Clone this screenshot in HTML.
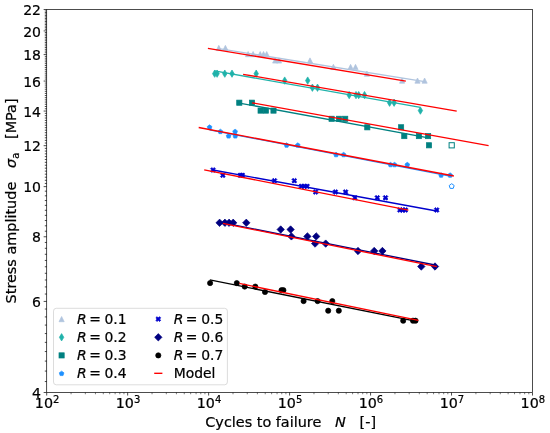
<!DOCTYPE html>
<html lang="en"><head><meta charset="utf-8"><title>S-N curves</title>
<style>html,body{margin:0;padding:0;background:#fff;}svg{display:block;}text{font-family:"DejaVu Sans","Liberation Sans",sans-serif;fill:#000;stroke:#000;stroke-width:0.22px;}.it{font-style:oblique;}</style></head><body>
<svg width="550" height="433" viewBox="0 0 550 433">
<rect x="0" y="0" width="550" height="433" fill="#fff"/>
<path d="M46.70 381.54h-1.9M46.70 371.09h-1.9M46.70 361.10h-1.9M46.70 351.54h-1.9M46.70 342.37h-1.9M46.70 333.56h-1.9M46.70 325.08h-1.9M46.70 316.91h-1.9M46.70 309.02h-1.9M46.70 294.04h-1.9M46.70 286.91h-1.9M46.70 279.99h-1.9M46.70 273.29h-1.9M46.70 266.77h-1.9M46.70 260.44h-1.9M46.70 254.29h-1.9M46.70 248.30h-1.9M46.70 242.46h-1.9M46.70 231.23h-1.9M46.70 225.81h-1.9M46.70 220.52h-1.9M46.70 215.36h-1.9M46.70 210.31h-1.9M46.70 205.37h-1.9M46.70 200.54h-1.9M46.70 195.81h-1.9M46.70 191.18h-1.9M46.70 183.45h-1.9M46.70 180.31h-1.9M46.70 177.21h-1.9M46.70 174.16h-1.9M46.70 171.14h-1.9M46.70 168.16h-1.9M46.70 165.23h-1.9M46.70 162.33h-1.9M46.70 159.47h-1.9M46.70 156.64h-1.9M46.70 153.85h-1.9M46.70 151.09h-1.9M46.70 148.37h-1.9M46.70 143.02h-1.9M46.70 140.39h-1.9M46.70 137.79h-1.9M46.70 135.23h-1.9M46.70 132.69h-1.9M46.70 130.18h-1.9M46.70 127.70h-1.9M46.70 125.24h-1.9M46.70 122.81h-1.9M46.70 120.41h-1.9M46.70 118.03h-1.9M46.70 115.68h-1.9M46.70 113.35h-1.9M46.70 108.77h-1.9M46.70 106.51h-1.9M46.70 104.27h-1.9M46.70 102.06h-1.9M46.70 99.87h-1.9M46.70 97.70h-1.9M46.70 95.55h-1.9M46.70 93.42h-1.9M46.70 91.31h-1.9M46.70 89.22h-1.9M46.70 87.15h-1.9M46.70 85.09h-1.9M46.70 83.06h-1.9M46.70 79.05h-1.9M46.70 77.07h-1.9M46.70 75.11h-1.9M46.70 73.16h-1.9M46.70 71.23h-1.9M46.70 69.32h-1.9M46.70 67.43h-1.9M46.70 65.55h-1.9M46.70 63.68h-1.9M46.70 61.83h-1.9M46.70 60.00h-1.9M46.70 58.18h-1.9M46.70 56.37h-1.9M46.70 52.81h-1.9M46.70 51.05h-1.9M46.70 49.30h-1.9M46.70 47.56h-1.9M46.70 45.84h-1.9M46.70 44.13h-1.9M46.70 42.44h-1.9M46.70 40.75h-1.9M46.70 39.08h-1.9M46.70 37.43h-1.9M46.70 35.78h-1.9M46.70 34.15h-1.9M46.70 32.52h-1.9M46.70 29.31h-1.9M46.70 27.73h-1.9M46.70 26.15h-1.9M46.70 24.58h-1.9M46.70 23.03h-1.9M46.70 21.49h-1.9M46.70 19.95h-1.9M46.70 18.43h-1.9M46.70 16.92h-1.9M46.70 15.41h-1.9M46.70 13.92h-1.9M46.70 12.44h-1.9M46.70 10.96h-1.9" stroke="#000" stroke-width="0.7" fill="none"/>
<path d="M46.70 392.50h-3.05M46.70 301.41h-3.05M46.70 236.77h-3.05M46.70 186.64h-3.05M46.70 145.68h-3.05M46.70 111.05h-3.05M46.70 81.05h-3.05M46.70 54.58h-3.05M46.70 30.91h-3.05M46.70 9.50h-3.05M46.70 392.50v3.05M127.67 392.50v3.05M208.63 392.50v3.05M289.60 392.50v3.05M370.57 392.50v3.05M451.53 392.50v3.05M532.50 392.50v3.05" stroke="#000" stroke-width="0.7" fill="none"/>
<path d="M71.07 392.50v1.75M85.33 392.50v1.75M95.45 392.50v1.75M103.29 392.50v1.75M109.70 392.50v1.75M115.12 392.50v1.75M119.82 392.50v1.75M123.96 392.50v1.75M152.04 392.50v1.75M166.30 392.50v1.75M176.41 392.50v1.75M184.26 392.50v1.75M190.67 392.50v1.75M196.09 392.50v1.75M200.79 392.50v1.75M204.93 392.50v1.75M233.01 392.50v1.75M247.26 392.50v1.75M257.38 392.50v1.75M265.23 392.50v1.75M271.64 392.50v1.75M277.06 392.50v1.75M281.75 392.50v1.75M285.90 392.50v1.75M313.97 392.50v1.75M328.23 392.50v1.75M338.35 392.50v1.75M346.19 392.50v1.75M352.60 392.50v1.75M358.02 392.50v1.75M362.72 392.50v1.75M366.86 392.50v1.75M394.94 392.50v1.75M409.20 392.50v1.75M419.31 392.50v1.75M427.16 392.50v1.75M433.57 392.50v1.75M438.99 392.50v1.75M443.69 392.50v1.75M447.83 392.50v1.75M475.91 392.50v1.75M490.16 392.50v1.75M500.28 392.50v1.75M508.13 392.50v1.75M514.54 392.50v1.75M519.96 392.50v1.75M524.65 392.50v1.75M528.80 392.50v1.75" stroke="#000" stroke-width="0.52" fill="none"/>
<clipPath id="axclip"><rect x="46.7" y="9.5" width="485.80" height="383.00"/></clipPath>
<g clip-path="url(#axclip)">
<g id="r1">
<path d="M218.80 45.35L216.20 50.55L221.40 50.55Z" fill="#b0c4de" stroke="#b0c4de" stroke-width="0.7" stroke-linejoin="miter"/>
<path d="M225.40 45.35L222.80 50.55L228.00 50.55Z" fill="#b0c4de" stroke="#b0c4de" stroke-width="0.7" stroke-linejoin="miter"/>
<path d="M248.10 51.50L245.50 56.70L250.70 56.70Z" fill="#b0c4de" stroke="#b0c4de" stroke-width="0.7" stroke-linejoin="miter"/>
<path d="M253.10 51.50L250.50 56.70L255.70 56.70Z" fill="#b0c4de" stroke="#b0c4de" stroke-width="0.7" stroke-linejoin="miter"/>
<path d="M260.20 51.50L257.60 56.70L262.80 56.70Z" fill="#b0c4de" stroke="#b0c4de" stroke-width="0.7" stroke-linejoin="miter"/>
<path d="M263.50 51.50L260.90 56.70L266.10 56.70Z" fill="#b0c4de" stroke="#b0c4de" stroke-width="0.7" stroke-linejoin="miter"/>
<path d="M266.70 51.50L264.10 56.70L269.30 56.70Z" fill="#b0c4de" stroke="#b0c4de" stroke-width="0.7" stroke-linejoin="miter"/>
<path d="M275.20 57.85L272.60 63.05L277.80 63.05Z" fill="#b0c4de" stroke="#b0c4de" stroke-width="0.7" stroke-linejoin="miter"/>
<path d="M279.00 57.85L276.40 63.05L281.60 63.05Z" fill="#b0c4de" stroke="#b0c4de" stroke-width="0.7" stroke-linejoin="miter"/>
<path d="M310.00 57.85L307.40 63.05L312.60 63.05Z" fill="#b0c4de" stroke="#b0c4de" stroke-width="0.7" stroke-linejoin="miter"/>
<path d="M333.40 64.37L330.80 69.57L336.00 69.57Z" fill="#b0c4de" stroke="#b0c4de" stroke-width="0.7" stroke-linejoin="miter"/>
<path d="M350.60 64.37L348.00 69.57L353.20 69.57Z" fill="#b0c4de" stroke="#b0c4de" stroke-width="0.7" stroke-linejoin="miter"/>
<path d="M355.50 64.37L352.90 69.57L358.10 69.57Z" fill="#b0c4de" stroke="#b0c4de" stroke-width="0.7" stroke-linejoin="miter"/>
<path d="M366.90 71.07L364.30 76.27L369.50 76.27Z" fill="#b0c4de" stroke="#b0c4de" stroke-width="0.7" stroke-linejoin="miter"/>
<path d="M402.10 78.00L399.50 83.20L404.70 83.20Z" fill="#b0c4de" stroke="#b0c4de" stroke-width="0.7" stroke-linejoin="miter"/>
<path d="M417.50 78.00L414.90 83.20L420.10 83.20Z" fill="#b0c4de" stroke="#b0c4de" stroke-width="0.7" stroke-linejoin="miter"/>
<path d="M424.60 78.00L422.00 83.20L427.20 83.20Z" fill="#b0c4de" stroke="#b0c4de" stroke-width="0.7" stroke-linejoin="miter"/>
<path d="M218.8 48.65L424.6 81.6" stroke="#b0c4de" stroke-width="1.35" fill="none" stroke-linecap="butt"/>
</g>
<g id="r2">
<path d="M214.70 69.99L212.49 73.67L214.70 77.35L216.91 73.67Z" fill="#20b2aa" stroke="#20b2aa" stroke-width="0.7" stroke-linejoin="miter"/>
<path d="M217.10 69.99L214.89 73.67L217.10 77.35L219.31 73.67Z" fill="#20b2aa" stroke="#20b2aa" stroke-width="0.7" stroke-linejoin="miter"/>
<path d="M224.80 69.99L222.59 73.67L224.80 77.35L227.01 73.67Z" fill="#20b2aa" stroke="#20b2aa" stroke-width="0.7" stroke-linejoin="miter"/>
<path d="M232.00 69.99L229.79 73.67L232.00 77.35L234.21 73.67Z" fill="#20b2aa" stroke="#20b2aa" stroke-width="0.7" stroke-linejoin="miter"/>
<path d="M256.20 69.99L253.99 73.67L256.20 77.35L258.41 73.67Z" fill="#20b2aa" stroke="#20b2aa" stroke-width="0.7" stroke-linejoin="miter"/>
<path d="M284.70 76.92L282.49 80.60L284.70 84.28L286.91 80.60Z" fill="#20b2aa" stroke="#20b2aa" stroke-width="0.7" stroke-linejoin="miter"/>
<path d="M307.70 76.92L305.49 80.60L307.70 84.28L309.91 80.60Z" fill="#20b2aa" stroke="#20b2aa" stroke-width="0.7" stroke-linejoin="miter"/>
<path d="M312.40 84.02L310.19 87.70L312.40 91.38L314.61 87.70Z" fill="#20b2aa" stroke="#20b2aa" stroke-width="0.7" stroke-linejoin="miter"/>
<path d="M317.50 84.02L315.29 87.70L317.50 91.38L319.71 87.70Z" fill="#20b2aa" stroke="#20b2aa" stroke-width="0.7" stroke-linejoin="miter"/>
<path d="M349.20 91.42L346.99 95.10L349.20 98.78L351.41 95.10Z" fill="#20b2aa" stroke="#20b2aa" stroke-width="0.7" stroke-linejoin="miter"/>
<path d="M356.00 91.42L353.79 95.10L356.00 98.78L358.21 95.10Z" fill="#20b2aa" stroke="#20b2aa" stroke-width="0.7" stroke-linejoin="miter"/>
<path d="M358.70 91.42L356.49 95.10L358.70 98.78L360.91 95.10Z" fill="#20b2aa" stroke="#20b2aa" stroke-width="0.7" stroke-linejoin="miter"/>
<path d="M364.50 91.42L362.29 95.10L364.50 98.78L366.71 95.10Z" fill="#20b2aa" stroke="#20b2aa" stroke-width="0.7" stroke-linejoin="miter"/>
<path d="M389.60 99.02L387.39 102.70L389.60 106.38L391.81 102.70Z" fill="#20b2aa" stroke="#20b2aa" stroke-width="0.7" stroke-linejoin="miter"/>
<path d="M394.10 99.02L391.89 102.70L394.10 106.38L396.31 102.70Z" fill="#20b2aa" stroke="#20b2aa" stroke-width="0.7" stroke-linejoin="miter"/>
<path d="M420.40 106.92L418.19 110.60L420.40 114.28L422.61 110.60Z" fill="#20b2aa" stroke="#20b2aa" stroke-width="0.7" stroke-linejoin="miter"/>
<path d="M214.5 70.9L420.4 107.3" stroke="#20b2aa" stroke-width="1.35" fill="none" stroke-linecap="butt"/>
</g>
<g id="r3">
<rect x="236.70" y="100.10" width="5.20" height="5.20" fill="#008080" stroke="#008080" stroke-width="0.7" stroke-linejoin="miter"/>
<rect x="249.40" y="100.10" width="5.20" height="5.20" fill="#008080" stroke="#008080" stroke-width="0.7" stroke-linejoin="miter"/>
<rect x="258.00" y="108.00" width="5.20" height="5.20" fill="#008080" stroke="#008080" stroke-width="0.7" stroke-linejoin="miter"/>
<rect x="263.30" y="108.00" width="5.20" height="5.20" fill="#008080" stroke="#008080" stroke-width="0.7" stroke-linejoin="miter"/>
<rect x="270.90" y="108.00" width="5.20" height="5.20" fill="#008080" stroke="#008080" stroke-width="0.7" stroke-linejoin="miter"/>
<rect x="329.00" y="116.20" width="5.20" height="5.20" fill="#008080" stroke="#008080" stroke-width="0.7" stroke-linejoin="miter"/>
<rect x="336.40" y="116.20" width="5.20" height="5.20" fill="#008080" stroke="#008080" stroke-width="0.7" stroke-linejoin="miter"/>
<rect x="342.60" y="116.20" width="5.20" height="5.20" fill="#008080" stroke="#008080" stroke-width="0.7" stroke-linejoin="miter"/>
<rect x="364.70" y="124.70" width="5.20" height="5.20" fill="#008080" stroke="#008080" stroke-width="0.7" stroke-linejoin="miter"/>
<rect x="398.50" y="124.70" width="5.20" height="5.20" fill="#008080" stroke="#008080" stroke-width="0.7" stroke-linejoin="miter"/>
<rect x="401.70" y="133.50" width="5.20" height="5.20" fill="#008080" stroke="#008080" stroke-width="0.7" stroke-linejoin="miter"/>
<rect x="416.30" y="133.50" width="5.20" height="5.20" fill="#008080" stroke="#008080" stroke-width="0.7" stroke-linejoin="miter"/>
<rect x="425.50" y="133.50" width="5.20" height="5.20" fill="#008080" stroke="#008080" stroke-width="0.7" stroke-linejoin="miter"/>
<rect x="426.40" y="142.70" width="5.20" height="5.20" fill="#008080" stroke="#008080" stroke-width="0.7" stroke-linejoin="miter"/>
<rect x="449.10" y="142.70" width="5.20" height="5.20" fill="none" stroke="#008080" stroke-width="1.0" stroke-linejoin="miter"/>
<path d="M239.3 103.1L428.5 137.8" stroke="#008080" stroke-width="1.35" fill="none" stroke-linecap="butt"/>
</g>
<g id="r4">
<path d="M209.60 124.85L211.93 126.54L211.04 129.28L208.16 129.28L207.27 126.54Z" fill="#1e90ff" stroke="#1e90ff" stroke-width="0.7" stroke-linejoin="miter"/>
<path d="M220.40 129.20L222.73 130.89L221.84 133.63L218.96 133.63L218.07 130.89Z" fill="#1e90ff" stroke="#1e90ff" stroke-width="0.7" stroke-linejoin="miter"/>
<path d="M228.60 133.65L230.93 135.34L230.04 138.08L227.16 138.08L226.27 135.34Z" fill="#1e90ff" stroke="#1e90ff" stroke-width="0.7" stroke-linejoin="miter"/>
<path d="M235.10 129.20L237.43 130.89L236.54 133.63L233.66 133.63L232.77 130.89Z" fill="#1e90ff" stroke="#1e90ff" stroke-width="0.7" stroke-linejoin="miter"/>
<path d="M235.30 133.65L237.63 135.34L236.74 138.08L233.86 138.08L232.97 135.34Z" fill="#1e90ff" stroke="#1e90ff" stroke-width="0.7" stroke-linejoin="miter"/>
<path d="M286.60 142.85L288.93 144.54L288.04 147.28L285.16 147.28L284.27 144.54Z" fill="#1e90ff" stroke="#1e90ff" stroke-width="0.7" stroke-linejoin="miter"/>
<path d="M297.80 142.85L300.13 144.54L299.24 147.28L296.36 147.28L295.47 144.54Z" fill="#1e90ff" stroke="#1e90ff" stroke-width="0.7" stroke-linejoin="miter"/>
<path d="M336.10 152.35L338.43 154.04L337.54 156.78L334.66 156.78L333.77 154.04Z" fill="#1e90ff" stroke="#1e90ff" stroke-width="0.7" stroke-linejoin="miter"/>
<path d="M343.60 152.35L345.93 154.04L345.04 156.78L342.16 156.78L341.27 154.04Z" fill="#1e90ff" stroke="#1e90ff" stroke-width="0.7" stroke-linejoin="miter"/>
<path d="M390.50 162.35L392.83 164.04L391.94 166.78L389.06 166.78L388.17 164.04Z" fill="#1e90ff" stroke="#1e90ff" stroke-width="0.7" stroke-linejoin="miter"/>
<path d="M394.50 162.35L396.83 164.04L395.94 166.78L393.06 166.78L392.17 164.04Z" fill="#1e90ff" stroke="#1e90ff" stroke-width="0.7" stroke-linejoin="miter"/>
<path d="M407.30 162.35L409.63 164.04L408.74 166.78L405.86 166.78L404.97 164.04Z" fill="#1e90ff" stroke="#1e90ff" stroke-width="0.7" stroke-linejoin="miter"/>
<path d="M441.10 172.85L443.43 174.54L442.54 177.28L439.66 177.28L438.77 174.54Z" fill="#1e90ff" stroke="#1e90ff" stroke-width="0.7" stroke-linejoin="miter"/>
<path d="M450.10 172.85L452.43 174.54L451.54 177.28L448.66 177.28L447.77 174.54Z" fill="#1e90ff" stroke="#1e90ff" stroke-width="0.7" stroke-linejoin="miter"/>
<path d="M451.70 183.70L454.17 185.50L453.23 188.40L450.17 188.40L449.23 185.50Z" fill="none" stroke="#1e90ff" stroke-width="1.0" stroke-linejoin="miter"/>
<path d="M209.6 129.9L450.1 176.1" stroke="#1e90ff" stroke-width="1.35" fill="none" stroke-linecap="butt"/>
</g>
<g id="r5">
<path d="M210.55 168.78L211.78 167.55L213.00 168.78L214.22 167.55L215.45 168.78L214.22 170.00L215.45 171.22L214.22 172.45L213.00 171.22L211.78 172.45L210.55 171.22L211.78 170.00Z" fill="#0000cd" stroke="#0000cd" stroke-width="0.7" stroke-linejoin="miter"/>
<path d="M220.35 174.08L221.58 172.85L222.80 174.08L224.03 172.85L225.25 174.08L224.03 175.30L225.25 176.53L224.03 177.75L222.80 176.53L221.58 177.75L220.35 176.53L221.58 175.30Z" fill="#0000cd" stroke="#0000cd" stroke-width="0.7" stroke-linejoin="miter"/>
<path d="M237.85 174.08L239.08 172.85L240.30 174.08L241.53 172.85L242.75 174.08L241.53 175.30L242.75 176.53L241.53 177.75L240.30 176.53L239.08 177.75L237.85 176.53L239.08 175.30Z" fill="#0000cd" stroke="#0000cd" stroke-width="0.7" stroke-linejoin="miter"/>
<path d="M239.95 174.08L241.18 172.85L242.40 174.08L243.62 172.85L244.85 174.08L243.62 175.30L244.85 176.53L243.62 177.75L242.40 176.53L241.18 177.75L239.95 176.53L241.18 175.30Z" fill="#0000cd" stroke="#0000cd" stroke-width="0.7" stroke-linejoin="miter"/>
<path d="M272.05 179.47L273.27 178.25L274.50 179.47L275.73 178.25L276.95 179.47L275.73 180.70L276.95 181.92L275.73 183.15L274.50 181.92L273.27 183.15L272.05 181.92L273.27 180.70Z" fill="#0000cd" stroke="#0000cd" stroke-width="0.7" stroke-linejoin="miter"/>
<path d="M291.85 179.47L293.07 178.25L294.30 179.47L295.53 178.25L296.75 179.47L295.53 180.70L296.75 181.92L295.53 183.15L294.30 181.92L293.07 183.15L291.85 181.92L293.07 180.70Z" fill="#0000cd" stroke="#0000cd" stroke-width="0.7" stroke-linejoin="miter"/>
<path d="M298.95 185.08L300.17 183.85L301.40 185.08L302.62 183.85L303.85 185.08L302.62 186.30L303.85 187.53L302.62 188.75L301.40 187.53L300.17 188.75L298.95 187.53L300.17 186.30Z" fill="#0000cd" stroke="#0000cd" stroke-width="0.7" stroke-linejoin="miter"/>
<path d="M301.85 185.08L303.07 183.85L304.30 185.08L305.53 183.85L306.75 185.08L305.53 186.30L306.75 187.53L305.53 188.75L304.30 187.53L303.07 188.75L301.85 187.53L303.07 186.30Z" fill="#0000cd" stroke="#0000cd" stroke-width="0.7" stroke-linejoin="miter"/>
<path d="M304.65 185.08L305.88 183.85L307.10 185.08L308.33 183.85L309.55 185.08L308.33 186.30L309.55 187.53L308.33 188.75L307.10 187.53L305.88 188.75L304.65 187.53L305.88 186.30Z" fill="#0000cd" stroke="#0000cd" stroke-width="0.7" stroke-linejoin="miter"/>
<path d="M313.15 190.78L314.38 189.55L315.60 190.78L316.83 189.55L318.05 190.78L316.83 192.00L318.05 193.22L316.83 194.45L315.60 193.22L314.38 194.45L313.15 193.22L314.38 192.00Z" fill="#0000cd" stroke="#0000cd" stroke-width="0.7" stroke-linejoin="miter"/>
<path d="M332.95 190.78L334.17 189.55L335.40 190.78L336.62 189.55L337.85 190.78L336.62 192.00L337.85 193.22L336.62 194.45L335.40 193.22L334.17 194.45L332.95 193.22L334.17 192.00Z" fill="#0000cd" stroke="#0000cd" stroke-width="0.7" stroke-linejoin="miter"/>
<path d="M343.15 190.78L344.38 189.55L345.60 190.78L346.83 189.55L348.05 190.78L346.83 192.00L348.05 193.22L346.83 194.45L345.60 193.22L344.38 194.45L343.15 193.22L344.38 192.00Z" fill="#0000cd" stroke="#0000cd" stroke-width="0.7" stroke-linejoin="miter"/>
<path d="M352.45 196.58L353.67 195.35L354.90 196.58L356.12 195.35L357.35 196.58L356.12 197.80L357.35 199.03L356.12 200.25L354.90 199.03L353.67 200.25L352.45 199.03L353.67 197.80Z" fill="#0000cd" stroke="#0000cd" stroke-width="0.7" stroke-linejoin="miter"/>
<path d="M374.85 196.58L376.07 195.35L377.30 196.58L378.53 195.35L379.75 196.58L378.53 197.80L379.75 199.03L378.53 200.25L377.30 199.03L376.07 200.25L374.85 199.03L376.07 197.80Z" fill="#0000cd" stroke="#0000cd" stroke-width="0.7" stroke-linejoin="miter"/>
<path d="M383.05 196.58L384.27 195.35L385.50 196.58L386.73 195.35L387.95 196.58L386.73 197.80L387.95 199.03L386.73 200.25L385.50 199.03L384.27 200.25L383.05 199.03L384.27 197.80Z" fill="#0000cd" stroke="#0000cd" stroke-width="0.7" stroke-linejoin="miter"/>
<path d="M397.45 208.78L398.67 207.55L399.90 208.78L401.12 207.55L402.35 208.78L401.12 210.00L402.35 211.22L401.12 212.45L399.90 211.22L398.67 212.45L397.45 211.22L398.67 210.00Z" fill="#0000cd" stroke="#0000cd" stroke-width="0.7" stroke-linejoin="miter"/>
<path d="M400.15 208.78L401.38 207.55L402.60 208.78L403.83 207.55L405.05 208.78L403.83 210.00L405.05 211.22L403.83 212.45L402.60 211.22L401.38 212.45L400.15 211.22L401.38 210.00Z" fill="#0000cd" stroke="#0000cd" stroke-width="0.7" stroke-linejoin="miter"/>
<path d="M402.95 208.78L404.17 207.55L405.40 208.78L406.62 207.55L407.85 208.78L406.62 210.00L407.85 211.22L406.62 212.45L405.40 211.22L404.17 212.45L402.95 211.22L404.17 210.00Z" fill="#0000cd" stroke="#0000cd" stroke-width="0.7" stroke-linejoin="miter"/>
<path d="M434.25 208.78L435.47 207.55L436.70 208.78L437.93 207.55L439.15 208.78L437.93 210.00L439.15 211.22L437.93 212.45L436.70 211.22L435.47 212.45L434.25 211.22L435.47 210.00Z" fill="#0000cd" stroke="#0000cd" stroke-width="0.7" stroke-linejoin="miter"/>
<path d="M212.9 170.0L436.5 211.0" stroke="#0000cd" stroke-width="1.35" fill="none" stroke-linecap="butt"/>
</g>
<g id="r6">
<path d="M219.60 219.12L215.92 222.80L219.60 226.48L223.28 222.80Z" fill="#000080" stroke="#000080" stroke-width="0.7" stroke-linejoin="miter"/>
<path d="M224.90 219.12L221.22 222.80L224.90 226.48L228.58 222.80Z" fill="#000080" stroke="#000080" stroke-width="0.7" stroke-linejoin="miter"/>
<path d="M229.10 219.12L225.42 222.80L229.10 226.48L232.78 222.80Z" fill="#000080" stroke="#000080" stroke-width="0.7" stroke-linejoin="miter"/>
<path d="M233.20 219.12L229.52 222.80L233.20 226.48L236.88 222.80Z" fill="#000080" stroke="#000080" stroke-width="0.7" stroke-linejoin="miter"/>
<path d="M246.30 219.12L242.62 222.80L246.30 226.48L249.98 222.80Z" fill="#000080" stroke="#000080" stroke-width="0.7" stroke-linejoin="miter"/>
<path d="M280.70 225.82L277.02 229.50L280.70 233.18L284.38 229.50Z" fill="#000080" stroke="#000080" stroke-width="0.7" stroke-linejoin="miter"/>
<path d="M290.60 225.82L286.92 229.50L290.60 233.18L294.28 229.50Z" fill="#000080" stroke="#000080" stroke-width="0.7" stroke-linejoin="miter"/>
<path d="M291.40 232.72L287.72 236.40L291.40 240.08L295.08 236.40Z" fill="#000080" stroke="#000080" stroke-width="0.7" stroke-linejoin="miter"/>
<path d="M307.40 232.72L303.72 236.40L307.40 240.08L311.08 236.40Z" fill="#000080" stroke="#000080" stroke-width="0.7" stroke-linejoin="miter"/>
<path d="M316.20 232.72L312.52 236.40L316.20 240.08L319.88 236.40Z" fill="#000080" stroke="#000080" stroke-width="0.7" stroke-linejoin="miter"/>
<path d="M315.10 239.92L311.42 243.60L315.10 247.28L318.78 243.60Z" fill="#000080" stroke="#000080" stroke-width="0.7" stroke-linejoin="miter"/>
<path d="M325.70 239.92L322.02 243.60L325.70 247.28L329.38 243.60Z" fill="#000080" stroke="#000080" stroke-width="0.7" stroke-linejoin="miter"/>
<path d="M358.00 247.32L354.32 251.00L358.00 254.68L361.68 251.00Z" fill="#000080" stroke="#000080" stroke-width="0.7" stroke-linejoin="miter"/>
<path d="M374.20 247.32L370.52 251.00L374.20 254.68L377.88 251.00Z" fill="#000080" stroke="#000080" stroke-width="0.7" stroke-linejoin="miter"/>
<path d="M382.40 247.32L378.72 251.00L382.40 254.68L386.08 251.00Z" fill="#000080" stroke="#000080" stroke-width="0.7" stroke-linejoin="miter"/>
<path d="M421.30 262.82L417.62 266.50L421.30 270.18L424.98 266.50Z" fill="#000080" stroke="#000080" stroke-width="0.7" stroke-linejoin="miter"/>
<path d="M435.00 262.82L431.32 266.50L435.00 270.18L438.68 266.50Z" fill="#000080" stroke="#000080" stroke-width="0.7" stroke-linejoin="miter"/>
<path d="M219.6 222.1L435.0 265.0" stroke="#000080" stroke-width="1.35" fill="none" stroke-linecap="butt"/>
</g>
<g id="r7">
<circle cx="210.10" cy="283.10" r="2.60" fill="#000000" stroke="#000000" stroke-width="0.7" stroke-linejoin="miter"/>
<circle cx="236.80" cy="283.10" r="2.60" fill="#000000" stroke="#000000" stroke-width="0.7" stroke-linejoin="miter"/>
<circle cx="244.70" cy="286.60" r="2.60" fill="#000000" stroke="#000000" stroke-width="0.7" stroke-linejoin="miter"/>
<circle cx="255.30" cy="286.60" r="2.60" fill="#000000" stroke="#000000" stroke-width="0.7" stroke-linejoin="miter"/>
<circle cx="265.00" cy="292.00" r="2.60" fill="#000000" stroke="#000000" stroke-width="0.7" stroke-linejoin="miter"/>
<circle cx="281.50" cy="290.20" r="2.60" fill="#000000" stroke="#000000" stroke-width="0.7" stroke-linejoin="miter"/>
<circle cx="283.40" cy="290.20" r="2.60" fill="#000000" stroke="#000000" stroke-width="0.7" stroke-linejoin="miter"/>
<circle cx="303.60" cy="301.10" r="2.60" fill="#000000" stroke="#000000" stroke-width="0.7" stroke-linejoin="miter"/>
<circle cx="317.60" cy="301.10" r="2.60" fill="#000000" stroke="#000000" stroke-width="0.7" stroke-linejoin="miter"/>
<circle cx="332.30" cy="301.10" r="2.60" fill="#000000" stroke="#000000" stroke-width="0.7" stroke-linejoin="miter"/>
<circle cx="328.20" cy="310.70" r="2.60" fill="#000000" stroke="#000000" stroke-width="0.7" stroke-linejoin="miter"/>
<circle cx="338.80" cy="310.70" r="2.60" fill="#000000" stroke="#000000" stroke-width="0.7" stroke-linejoin="miter"/>
<circle cx="403.20" cy="320.70" r="2.60" fill="#000000" stroke="#000000" stroke-width="0.7" stroke-linejoin="miter"/>
<circle cx="413.00" cy="320.70" r="2.60" fill="#000000" stroke="#000000" stroke-width="0.7" stroke-linejoin="miter"/>
<circle cx="415.50" cy="320.70" r="2.60" fill="#000000" stroke="#000000" stroke-width="0.7" stroke-linejoin="miter"/>
<path d="M209.8 279.8L415.5 321.2" stroke="#000000" stroke-width="1.35" fill="none" stroke-linecap="butt"/>
</g>
<g id="model">
<path d="M207.9 48.35L405.8 81.1" stroke="#ff0000" stroke-width="1.35" fill="none" stroke-linecap="butt"/>
<path d="M243.1 74.3L456.7 111.2" stroke="#ff0000" stroke-width="1.35" fill="none" stroke-linecap="butt"/>
<path d="M252.0 102.8L488.6 145.7" stroke="#ff0000" stroke-width="1.35" fill="none" stroke-linecap="butt"/>
<path d="M198.7 127.5L453.9 176.0" stroke="#ff0000" stroke-width="1.35" fill="none" stroke-linecap="butt"/>
<path d="M204.2 169.8L408.4 210.1" stroke="#ff0000" stroke-width="1.35" fill="none" stroke-linecap="butt"/>
<path d="M222.9 223.4L436.8 266.6" stroke="#ff0000" stroke-width="1.35" fill="none" stroke-linecap="butt"/>
<path d="M239.3 283.4L418.4 320.4" stroke="#ff0000" stroke-width="1.35" fill="none" stroke-linecap="butt"/>
</g>
</g>
<rect x="46.7" y="9.5" width="485.80" height="383.00" fill="none" stroke="#000" stroke-width="0.7"/>
<text x="41.0" y="398.10" font-size="14.0" text-anchor="end">4</text>
<text x="41.0" y="307.01" font-size="14.0" text-anchor="end">6</text>
<text x="41.0" y="242.37" font-size="14.0" text-anchor="end">8</text>
<text x="41.0" y="192.24" font-size="14.0" text-anchor="end">10</text>
<text x="41.0" y="151.28" font-size="14.0" text-anchor="end">12</text>
<text x="41.0" y="116.65" font-size="14.0" text-anchor="end">14</text>
<text x="41.0" y="86.65" font-size="14.0" text-anchor="end">16</text>
<text x="41.0" y="60.18" font-size="14.0" text-anchor="end">18</text>
<text x="41.0" y="36.51" font-size="14.0" text-anchor="end">20</text>
<text x="41.0" y="15.10" font-size="14.0" text-anchor="end">22</text>
<text x="34.80" y="408.3" font-size="14.3">10<tspan dy="-5.0" font-size="10">2</tspan></text>
<text x="115.77" y="408.3" font-size="14.3">10<tspan dy="-5.0" font-size="10">3</tspan></text>
<text x="196.73" y="408.3" font-size="14.3">10<tspan dy="-5.0" font-size="10">4</tspan></text>
<text x="277.70" y="408.3" font-size="14.3">10<tspan dy="-5.0" font-size="10">5</tspan></text>
<text x="358.67" y="408.3" font-size="14.3">10<tspan dy="-5.0" font-size="10">6</tspan></text>
<text x="439.63" y="408.3" font-size="14.3">10<tspan dy="-5.0" font-size="10">7</tspan></text>
<text x="520.60" y="408.3" font-size="14.3">10<tspan dy="-5.0" font-size="10">8</tspan></text>
<text x="205.3" y="426.6" font-size="14.42" xml:space="preserve" style="white-space:pre">Cycles to failure   <tspan class="it">N</tspan>   [-]</text>
<text transform="translate(16.4 303.4) rotate(-90)" font-size="14.42" xml:space="preserve" style="white-space:pre">Stress amplitude   <tspan class="it">σ</tspan><tspan dy="2.2" font-size="10">a</tspan><tspan dy="-2.2">   [MPa]</tspan></text>
<rect x="53.5" y="308.3" width="173.9" height="76.5" rx="2.8" ry="2.8" fill="#fff" fill-opacity="0.8" stroke="#ccc" stroke-opacity="0.8" stroke-width="0.87"/>
<path d="M61.60 316.50L59.00 321.70L64.20 321.70Z" fill="#b0c4de" stroke="#b0c4de" stroke-width="0.7" stroke-linejoin="miter"/>
<text x="77.0" y="323.7" font-size="13.9"><tspan class="it">R</tspan><tspan dx="2.5">=</tspan><tspan dx="3.7">0.1</tspan></text>
<path d="M61.60 333.62L59.39 337.30L61.60 340.98L63.81 337.30Z" fill="#20b2aa" stroke="#20b2aa" stroke-width="0.7" stroke-linejoin="miter"/>
<text x="77.0" y="341.9" font-size="13.9"><tspan class="it">R</tspan><tspan dx="2.5">=</tspan><tspan dx="3.7">0.2</tspan></text>
<rect x="59.00" y="352.80" width="5.20" height="5.20" fill="#008080" stroke="#008080" stroke-width="0.7" stroke-linejoin="miter"/>
<text x="77.0" y="360.0" font-size="13.9"><tspan class="it">R</tspan><tspan dx="2.5">=</tspan><tspan dx="3.7">0.3</tspan></text>
<path d="M61.60 371.15L63.93 372.84L63.04 375.58L60.16 375.58L59.27 372.84Z" fill="#1e90ff" stroke="#1e90ff" stroke-width="0.7" stroke-linejoin="miter"/>
<text x="77.0" y="378.2" font-size="13.9"><tspan class="it">R</tspan><tspan dx="2.5">=</tspan><tspan dx="3.7">0.4</tspan></text>
<path d="M155.85 317.87L157.08 316.65L158.30 317.87L159.53 316.65L160.75 317.87L159.53 319.10L160.75 320.32L159.53 321.55L158.30 320.32L157.08 321.55L155.85 320.32L157.08 319.10Z" fill="#0000cd" stroke="#0000cd" stroke-width="0.7" stroke-linejoin="miter"/>
<text x="173.7" y="323.7" font-size="13.9"><tspan class="it">R</tspan><tspan dx="2.5">=</tspan><tspan dx="3.7">0.5</tspan></text>
<path d="M158.30 333.62L154.62 337.30L158.30 340.98L161.98 337.30Z" fill="#000080" stroke="#000080" stroke-width="0.7" stroke-linejoin="miter"/>
<text x="173.7" y="341.9" font-size="13.9"><tspan class="it">R</tspan><tspan dx="2.5">=</tspan><tspan dx="3.7">0.6</tspan></text>
<circle cx="158.30" cy="355.40" r="2.60" fill="#000000" stroke="#000000" stroke-width="0.7" stroke-linejoin="miter"/>
<text x="173.7" y="360.0" font-size="13.9"><tspan class="it">R</tspan><tspan dx="2.5">=</tspan><tspan dx="3.7">0.7</tspan></text>
<path d="M154.20000000000002 373.3H162.4" stroke="#ff0000" stroke-width="1.35" fill="none"/>
<text x="173.7" y="378.2" font-size="13.9">Model</text>
</svg></body></html>
